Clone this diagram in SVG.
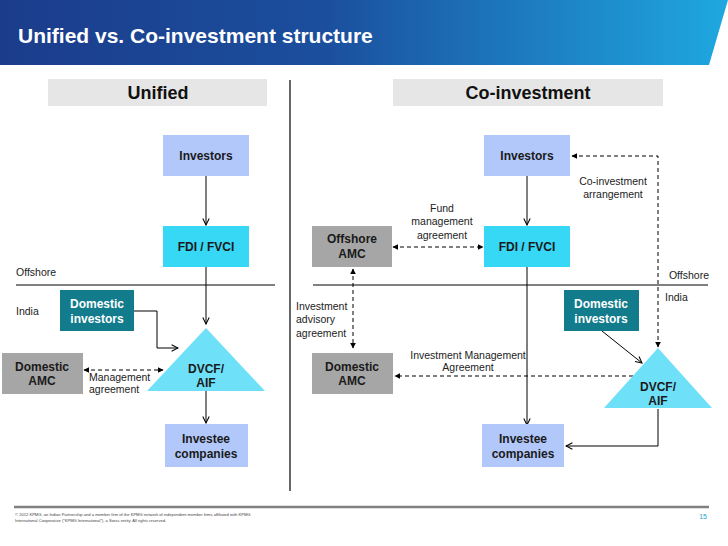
<svg xmlns="http://www.w3.org/2000/svg" width="728" height="546" viewBox="0 0 728 546">
<defs>
<linearGradient id="hdr" x1="0" y1="0" x2="1" y2="0">
<stop offset="0" stop-color="#1b3c8b"/>
<stop offset="0.45" stop-color="#1b4f9e"/>
<stop offset="1" stop-color="#1fa8e0"/>
</linearGradient>
<marker id="open" viewBox="0 0 10 10" refX="9" refY="5" markerWidth="8" markerHeight="8" markerUnits="userSpaceOnUse" orient="auto">
<path d="M1,1 L9,5 L1,9" fill="none" stroke="#000" stroke-width="1.3"/>
</marker>
<marker id="fill" viewBox="0 0 10 10" refX="9" refY="5" markerWidth="6" markerHeight="6" markerUnits="userSpaceOnUse" orient="auto-start-reverse">
<path d="M0,0 L10,5 L0,10 Z" fill="#000"/>
</marker>
</defs>
<style>
text{font-family:"Liberation Sans",Arial,sans-serif;}
.nb{font-size:12px;font-weight:bold;fill:#1a1a1a;text-anchor:middle;}
.nw{font-size:12px;font-weight:bold;fill:#fff;text-anchor:middle;}
.lb{font-size:10.5px;fill:#222;}
.lc{font-size:10.5px;fill:#222;text-anchor:middle;}
.hd{font-size:18px;font-weight:bold;fill:#111;text-anchor:middle;}
.solid{fill:none;stroke:#000;stroke-width:1;marker-end:url(#open);}
.dash{fill:none;stroke:#000;stroke-width:1;stroke-dasharray:4,3;}
.inv{fill:#b3c8fa;}
.fdi{fill:#36d8f6;}
.tri{fill:#6ee0f8;}
.dom{fill:#127b8c;}
.amc{fill:#a6a6a6;}
</style>
<rect width="728" height="546" fill="#fff"/>
<!-- header -->
<path d="M0,0 H728 L709,65 H0 Z" fill="url(#hdr)"/>
<text x="18" y="43" font-size="21" font-weight="bold" fill="#fff" font-family="'Liberation Sans',Arial,sans-serif">Unified vs. Co-investment structure</text>
<rect x="48" y="79" width="219" height="27" fill="#e6e6e6"/>
<text class="hd" x="158" y="99">Unified</text>
<rect x="393" y="79" width="270" height="27" fill="#e6e6e6"/>
<text class="hd" x="528" y="99">Co-investment</text>
<line x1="290" y1="80" x2="290" y2="491" stroke="#000" stroke-width="1.2"/>
<!-- region lines & labels -->
<line x1="16" y1="285" x2="275" y2="285" stroke="#000" stroke-width="1"/>
<line x1="313" y1="285" x2="708" y2="285" stroke="#000" stroke-width="1"/>
<text class="lb" x="16" y="276">Offshore</text>
<text class="lb" x="16" y="315">India</text>
<text class="lb" x="709" y="279" text-anchor="end">Offshore</text>
<text class="lb" x="665" y="301">India</text>
<!-- connectors -->
<g id="connectors">
<line class="solid" x1="206" y1="176" x2="206" y2="225"/>
<line class="solid" x1="206" y1="267" x2="206" y2="324"/>
<polyline class="solid" points="134,311 157,311 157,348 178,348"/>
<line class="dash" x1="84" y1="370" x2="163" y2="370" marker-start="url(#fill)" marker-end="url(#fill)"/>
<line class="solid" x1="206" y1="391" x2="206" y2="423"/>
<line class="solid" x1="527" y1="176" x2="527" y2="225"/>
<line class="solid" x1="527" y1="267" x2="527" y2="425"/>
<line class="dash" x1="393" y1="247" x2="483" y2="247" marker-start="url(#fill)" marker-end="url(#fill)"/>
<line class="dash" x1="353" y1="269" x2="353" y2="348" marker-start="url(#fill)" marker-end="url(#fill)"/>
<polyline class="dash" points="572,156 658,156 658,347" marker-start="url(#fill)" marker-end="url(#fill)"/>
<line class="dash" x1="633" y1="376" x2="395" y2="376" marker-end="url(#fill)"/>
<line class="solid" x1="602" y1="331" x2="642" y2="363"/>
<polyline class="solid" points="658,409 658,446 566,446"/>
</g>
<!-- Unified nodes -->
<g id="u-investors"><rect class="inv" x="163" y="135" width="86" height="41"/><text class="nb" x="206" y="160">Investors</text></g>
<g id="u-fdi"><rect class="fdi" x="163" y="226" width="86" height="41"/><text class="nb" x="206" y="251">FDI / FVCI</text></g>
<g id="u-dominv"><rect class="dom" x="60" y="290" width="74" height="41"/><text class="nw" x="97" y="308">Domestic</text><text class="nw" x="97" y="323">investors</text></g>
<g id="u-dvcf"><polygon class="tri" points="206,328 147,391 265,391"/><text class="nb" x="206" y="373">DVCF/</text><text class="nb" x="206" y="387">AIF</text></g>
<g id="u-amc"><rect class="amc" x="2" y="353" width="81" height="41"/><text class="nb" x="42" y="371">Domestic</text><text class="nb" x="42" y="385">AMC</text></g>
<text class="lb" x="89" y="381">Management</text>
<text class="lb" x="89" y="393">agreement</text>
<g id="u-investee"><rect class="inv" x="165" y="424" width="83" height="43"/><text class="nb" x="206" y="443">Investee</text><text class="nb" x="206" y="458">companies</text></g>
<!-- Co-investment nodes -->
<g id="c-investors"><rect class="inv" x="484" y="135" width="86" height="41"/><text class="nb" x="527" y="160">Investors</text></g>
<g id="c-fdi"><rect class="fdi" x="484" y="226" width="86" height="41"/><text class="nb" x="527" y="251">FDI / FVCI</text></g>
<g id="c-offamc"><rect class="amc" x="312" y="226" width="80" height="41"/><text class="nb" x="352" y="243">Offshore</text><text class="nb" x="352" y="258">AMC</text></g>
<g id="c-domamc"><rect class="amc" x="312" y="353" width="81" height="41"/><text class="nb" x="352" y="371">Domestic</text><text class="nb" x="352" y="385">AMC</text></g>
<g id="c-dominv"><rect class="dom" x="564" y="290" width="75" height="41"/><text class="nw" x="601" y="308">Domestic</text><text class="nw" x="601" y="323">investors</text></g>
<g id="c-dvcf"><polygon class="tri" points="658,348 604,408 712,408"/><text class="nb" x="658" y="391">DVCF/</text><text class="nb" x="658" y="405">AIF</text></g>
<g id="c-investee"><rect class="inv" x="482" y="424" width="82" height="43"/><text class="nb" x="523" y="443">Investee</text><text class="nb" x="523" y="458">companies</text></g>
<!-- labels -->
<text class="lc" x="613" y="185">Co-investment</text>
<text class="lc" x="613" y="198">arrangement</text>
<text class="lc" x="442" y="212">Fund</text>
<text class="lc" x="442" y="225">management</text>
<text class="lc" x="442" y="239">agreement</text>
<text class="lb" x="296" y="310">Investment</text>
<text class="lb" x="296" y="323">advisory</text>
<text class="lb" x="296" y="337">agreement</text>
<text class="lc" x="468" y="359">Investment Management</text>
<text class="lc" x="468" y="371">Agreement</text>
<!-- footer -->
<line x1="14" y1="507" x2="709" y2="507" stroke="#808080" stroke-width="2.5"/>
<text x="15" y="516" font-size="4.1" fill="#444">© 2012 KPMG, an Indian Partnership and a member firm of the KPMG network of independent member firms affiliated with KPMG</text>
<text x="15" y="522" font-size="4.1" fill="#444">International Cooperative ("KPMG International"), a Swiss entity. All rights reserved.</text>
<text x="707" y="519" font-size="7" fill="#2aa0c8" text-anchor="end">15</text>
</svg>
